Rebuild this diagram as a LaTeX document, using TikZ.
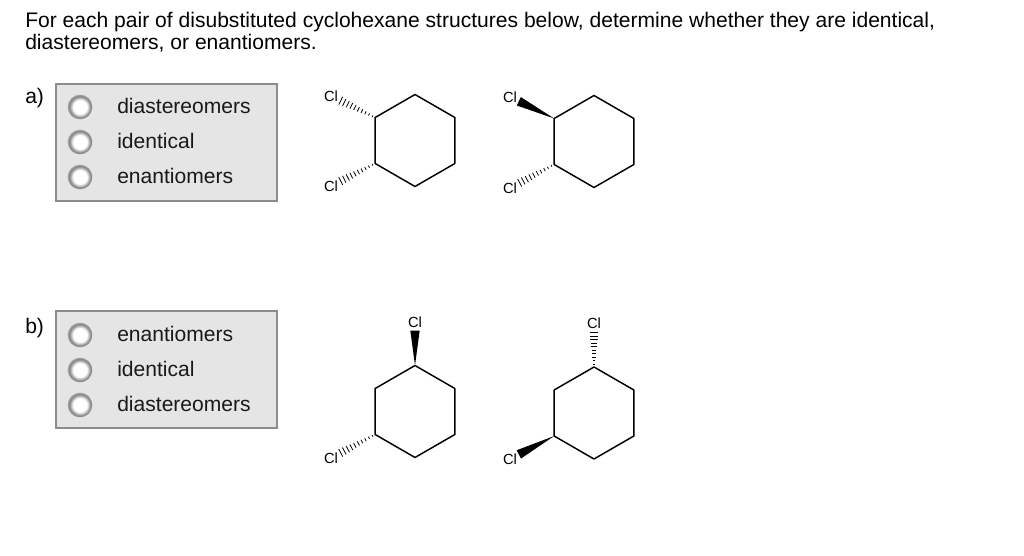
\documentclass[tikz,border=0pt]{standalone}
\usepackage{fontspec}
\setmainfont{Liberation Sans}
\usetikzlibrary{calc}

\pgfdeclareradialshading{radioshade}{\pgfpoint{0bp}{0bp}}{color(0bp)=(white); color(14bp)=(white); color(17.5bp)=(black!22); color(22bp)=(black!50); color(25bp)=(black!35); color(50bp)=(black!35)}

\tikzset{
	ring/.style={line width=1.1pt, line join=round},
	atom/.style={inner sep=0, font=\fontsize{11}{11}\selectfont},
	choicebox/.style={draw=black!45, fill=black!10, line width=1.7pt, rectangle, minimum width=166pt, minimum height=88pt},
	radio/.style={circle, shading=radioshade, minimum size=18.5pt, inner sep=0},
	choice/.style={anchor=base west, inner sep=0, font=\fontsize{15.8}{15.8}\selectfont, text=black!90},
	caselabel/.style={anchor=base west, inner sep=0, font=\fontsize{15.8}{15.8}\selectfont}
}

% ring of six atoms around a centre
\newcommand{\hexring}[3]{
	\foreach \i/\ang in {1/-90,2/-30,3/30,4/90,5/150,6/210}
		\coordinate (#1\i) at ($(#2,#3)+(\ang:46)$);
	\draw[ring] (#11) -- (#12) -- (#13) -- (#14) -- (#15) -- (#16) -- cycle;
}
\newcommand{\wedgebond}[2]{
	\fill[black] (#1) -- ($(#1)!0.8!(#2)!3.5pt!90:(#2)$) -- ($(#1)!0.8!(#2)!3.5pt!-90:(#2)$) -- cycle;
}
\newcommand{\hashbond}[2]{
	\foreach \t [evaluate=\t as \w using 0.4+3.6*\t] in {0.06,0.14,...,0.8}
		\draw[line width=0.6pt] ($(#1)!\t!(#2)!\w pt!90:(#2)$) -- ($(#1)!\t!(#2)!\w pt!-90:(#2)$);
}

\begin{document}
\begin{tikzpicture}[x=0.75pt,y=-0.75pt]
	\useasboundingbox (0,0) rectangle (1024,556);

	\node (question) [caselabel, align=left, anchor=north west, font=\fontsize{15.8}{16.5}\selectfont] at (25,12) {For each pair of disubstituted cyclohexane structures below, determine whether they are identical,\\diastereomers, or enantiomers.};

	% part a
	\node (labela) [caselabel] at (25,104) {a)};
	\node (boxa) [choicebox] at (166.5,142.5) {};
	\node (radioa1) [radio] at (80,107) {};
	\node (radioa2) [radio] at (80,142) {};
	\node (radioa3) [radio] at (80,177) {};
	\node (choicea1) [choice] at (117,114) {diastereomers};
	\node (choicea2) [choice] at (117,149) {identical};
	\node (choicea3) [choice] at (117,184) {enantiomers};

	\hexring{aL}{415}{140.5}
	\node (clAa) [atom] at (331,96) {Cl};
	\node (clAb) [atom] at (331,186) {Cl};
	\hashbond{aL6}{clAa}
	\hashbond{aL5}{clAb}

	\hexring{aR}{594}{141.5}
	\node (clBa) [atom] at (510,97) {Cl};
	\node (clBb) [atom] at (510,188) {Cl};
	\wedgebond{aR6}{clBa}
	\hashbond{aR5}{clBb}

	% part b
	\node (labelb) [caselabel] at (25,333) {b)};
	\node (boxb) [choicebox] at (166.5,369.5) {};
	\node (radiob1) [radio] at (80,335) {};
	\node (radiob2) [radio] at (80,370) {};
	\node (radiob3) [radio] at (80,405) {};
	\node (choiceb1) [choice] at (117,341) {enantiomers};
	\node (choiceb2) [choice] at (117,376) {identical};
	\node (choiceb3) [choice] at (117,411) {diastereomers};

	\hexring{bL}{415}{411.5}
	\node (clCa) [atom] at (415,322) {Cl};
	\node (clCb) [atom] at (331,458) {Cl};
	\wedgebond{bL1}{clCa}
	\hashbond{bL5}{clCb}

	\hexring{bR}{594}{413}
	\node (clDa) [atom] at (594,323) {Cl};
	\node (clDb) [atom] at (510,459) {Cl};
	\hashbond{bR1}{clDa}
	\wedgebond{bR5}{clDb}
\end{tikzpicture}
\end{document}
